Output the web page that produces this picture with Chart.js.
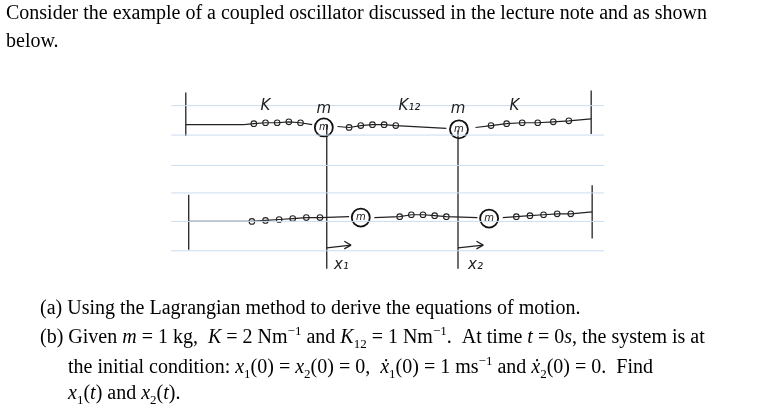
<!DOCTYPE html>
<html><head><meta charset="utf-8">
<script src="https://cdn.jsdelivr.net/npm/chart.js@4"></script>
<style>
body{margin:0;background:#fff;width:776px;height:420px;overflow:hidden;font-family:"Liberation Serif","DejaVu Serif",serif;font-size:20px;color:#000}
#wrap{position:absolute;left:0;top:0;width:776px;height:420px}
.t{position:absolute;white-space:nowrap}
i{font-family:"Liberation Serif",serif}
sub,sup{font-size:13px}
</style></head><body>
<div id="wrap"><canvas id="c"></canvas></div>
<div class="t" style="left:6px;top:1px">Consider the example of a coupled oscillator discussed in the lecture note and as shown</div>
<div class="t" style="left:6px;top:29px">below.</div>
<div class="t" style="left:40px;top:296px">(a) Using the Lagrangian method to derive the equations of motion.</div>
<div class="t" style="left:40px;top:323px">(b) Given <i>m</i> = 1 kg, &nbsp;<i>K</i> = 2 Nm<sup>−1</sup> and <i>K</i><sub>12</sub> = 1 Nm<sup>−1</sup>. &nbsp;At time <i>t</i> = 0<i>s</i>, the system is at</div>
<div class="t" style="left:68px;top:353px">the initial condition: <i>x</i><sub>1</sub>(0) = <i>x</i><sub>2</sub>(0) = 0, &nbsp;<i>ẋ</i><sub>1</sub>(0) = 1 ms<sup>−1</sup> and <i>ẋ</i><sub>2</sub>(0) = 0. &nbsp;Find</div>
<div class="t" style="left:68px;top:381px"><i>x</i><sub>1</sub>(<i>t</i>) and <i>x</i><sub>2</sub>(<i>t</i>).</div>
<script>
// ruled paper lines (y positions) and diagram pieces, in page pixels
const ruleY = [100, 131, 163, 192, 222, 253];
const ruleX = [165, 610];
const walls = [[[180, 86], [180, 132]], [[597, 84], [597, 130]], [[183, 194], [183, 252]], [[598, 184], [598, 240]]];
const rods = [[[180, 120], [240, 120]], [[183, 222], [236, 222]], [[325, 120], [325, 272]], [[460, 126], [460, 272]],
  [[325, 250], [350, 247]], [[460, 250], [486, 247]], [[343, 243], [350, 247]], [[343, 251], [350, 247]], [[479, 243], [486, 247]], [[479, 251], [486, 247]]];
const springs = [
  [[240, 120], [250, 119], [262, 118], [274, 118], [286, 117], [298, 118], [310, 120]],
  [[336, 122], [348, 123], [360, 121], [372, 120], [384, 120], [396, 121], [448, 124]],
  [[478, 123], [494, 121], [510, 119], [526, 118], [542, 118], [558, 117], [574, 116], [597, 114]],
  [[236, 222], [248, 222], [262, 221], [276, 220], [290, 219], [304, 218], [318, 218], [348, 217]],
  [[374, 218], [400, 217], [412, 215], [424, 215], [436, 216], [448, 217], [480, 218]],
  [[506, 218], [520, 217], [534, 216], [548, 215], [562, 214], [576, 214], [598, 212]]];
const masses = [[322, 123], [461, 125], [360, 218], [492, 219]];
const labels = [['K', 262, 100], ['m', 322, 104], ['K₁₂', 410, 100], ['m', 460, 104], ['K', 518, 100], ['x₁', 340, 268], ['x₂', 478, 268]];

const ds = [];
ruleY.forEach(y => ds.push({data: [{x: ruleX[0], y}, {x: ruleX[1], y}], borderColor: '#c9dcef', borderWidth: 1, pointRadius: 0, showLine: true}));
walls.concat(rods).forEach(s => ds.push({data: s.map(p => ({x: p[0], y: p[1]})), borderColor: '#222', borderWidth: 1.3, pointRadius: 0, showLine: true}));
springs.forEach(s => ds.push({data: s.map(p => ({x: p[0], y: p[1]})), borderColor: '#222', borderWidth: 1.2, showLine: true,
  pointRadius: s.map((p, i) => (i === 0 || i === s.length - 1) ? 0 : 2.8), pointBackgroundColor: 'rgba(0,0,0,0)', pointBorderColor: '#222', pointBorderWidth: 1.1}));
ds.push({data: masses.map(p => ({x: p[0], y: p[1]})), pointRadius: 9, pointBackgroundColor: '#fff', pointBorderColor: '#111', pointBorderWidth: 1.8, showLine: false});

const textPlugin = {id: 'txt', afterDatasetsDraw(chart) {
  const c = chart.ctx, xs = chart.scales.x, ys = chart.scales.y;
  c.save(); c.font = 'italic 15px "DejaVu Sans"'; c.fillStyle = '#222'; c.textAlign = 'center'; c.textBaseline = 'middle';
  labels.forEach(l => c.fillText(l[0], xs.getPixelForValue(l[1]), ys.getPixelForValue(l[2])));
  c.font = 'italic 10px "DejaVu Sans"';
  masses.forEach(m => c.fillText('m', xs.getPixelForValue(m[0]), ys.getPixelForValue(m[1])));
  c.restore();
}};

new Chart(document.getElementById('c').getContext('2d'), {
  type: 'scatter',
  data: {datasets: ds},
  options: {
    responsive: true, maintainAspectRatio: false, animation: false,
    layout: {padding: 0},
    plugins: {legend: {display: false}, tooltip: {enabled: false}},
    scales: {
      x: {type: 'linear', min: 0, max: 776, display: false},
      y: {type: 'linear', min: 0, max: 420, reverse: true, display: false}
    }
  },
  plugins: [textPlugin]
});
</script>
</body></html>
